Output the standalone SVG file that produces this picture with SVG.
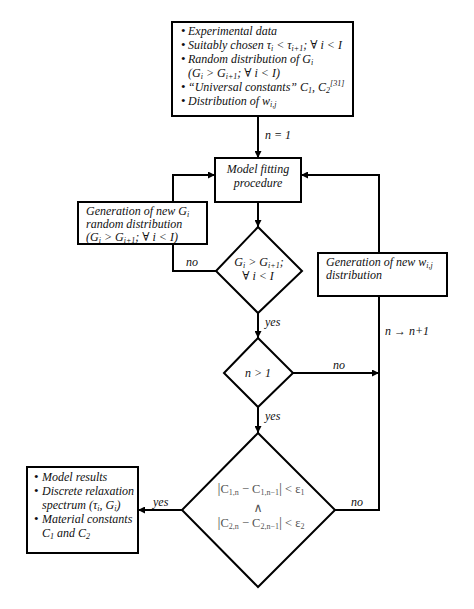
<svg xmlns="http://www.w3.org/2000/svg" width="474" height="609" viewBox="0 0 474 609">
<style>
  .box { fill: #fff; stroke: #000; stroke-width: 2; }
  .edge { fill: none; stroke: #000; stroke-width: 2; }
  .t { font-family: "Liberation Serif", "DejaVu Serif", serif; font-style: italic; font-size: 12px; fill: #111; }
  .b { font-family: "Liberation Serif", "DejaVu Serif", serif; font-size: 13px; fill: #111; }
  .m { font-family: "Liberation Serif", "DejaVu Serif", serif; font-size: 12.5px; fill: #555; }
  .s { font-size: 8px; }
</style>
<defs>
  <marker id="arr" viewBox="0 0 10 10" refX="10" refY="5" markerWidth="8" markerHeight="7" markerUnits="userSpaceOnUse" orient="auto">
    <path d="M0,0 L10,5 L0,10 z" fill="#000"/>
  </marker>
</defs>
<rect width="474" height="609" fill="#fff"/>

<g id="connectors">
  <line class="edge" x1="258" y1="116" x2="258" y2="158" marker-end="url(#arr)"/>
  <line class="edge" x1="258" y1="202" x2="258" y2="227" marker-end="url(#arr)"/>
  <path class="edge" d="M173,202 V175 H215" marker-end="url(#arr)"/>
  <path class="edge" d="M216,271 H173 V244"/>
  <line class="edge" x1="258" y1="313" x2="258" y2="338" marker-end="url(#arr)"/>
  <line class="edge" x1="258" y1="407" x2="258" y2="433" marker-end="url(#arr)"/>
  <line class="edge" x1="293" y1="373" x2="379" y2="373" marker-end="url(#arr)"/>
  <path class="edge" d="M335,510 H379 V296"/>
  <path class="edge" d="M379,253 V175 H301" marker-end="url(#arr)"/>
  <line class="edge" x1="182" y1="510" x2="138" y2="510" marker-end="url(#arr)"/>
  <text class="t" x="265" y="139">n = 1</text>
  <text class="t" x="186" y="266">no</text>
  <text class="t" x="265" y="326">yes</text>
  <text class="t" x="333" y="369">no</text>
  <text class="t" x="385" y="335">n → n+1</text>
  <text class="t" x="265" y="420">yes</text>
  <text class="t" x="351" y="506">no</text>
  <text class="t" x="153" y="506">yes</text>
</g>

<g id="start">
  <rect class="box" x="172" y="22" width="181" height="94"/>
  <text class="b" x="181" y="35">•</text>
  <text class="b" x="181" y="49">•</text>
  <text class="b" x="181" y="63">•</text>
  <text class="b" x="181" y="91">•</text>
  <text class="b" x="181" y="105">•</text>
  <text class="t" x="188" y="35">Experimental data</text>
  <text class="t" x="188" y="49">Suitably chosen τ<tspan class="s" dy="2">i</tspan><tspan dy="-2"> &lt; τ</tspan><tspan class="s" dy="2">i+1</tspan><tspan dy="-2">; ∀ i &lt; I</tspan></text>
  <text class="t" x="188" y="63">Random distribution of G<tspan class="s" dy="2">i</tspan></text>
  <text class="t" x="188" y="77">(G<tspan class="s" dy="2">i</tspan><tspan dy="-2"> &gt; G</tspan><tspan class="s" dy="2">i+1</tspan><tspan dy="-2">; ∀ i &lt; I)</tspan></text>
  <text class="t" x="188" y="91">“Universal constants” C<tspan class="s" dy="2">1</tspan><tspan dy="-2">,  C</tspan><tspan class="s" dy="2">2</tspan><tspan class="s" dy="-7">[31]</tspan></text>
  <text class="t" x="188" y="105">Distribution of w<tspan class="s" dy="2">i,j</tspan></text>
</g>

<g id="model">
  <rect class="box" x="215" y="158" width="86" height="44"/>
  <text class="t" x="258" y="173" text-anchor="middle">Model fitting</text>
  <text class="t" x="258" y="187" text-anchor="middle">procedure</text>
</g>

<g id="genG">
  <rect class="box" x="78" y="202" width="129" height="42"/>
  <text class="t" x="86" y="215">Generation of new G<tspan class="s" dy="2">i</tspan></text>
  <text class="t" x="86" y="228">random distribution</text>
  <text class="t" x="86" y="241">(G<tspan class="s" dy="2">i</tspan><tspan dy="-2"> &gt; G</tspan><tspan class="s" dy="2">i+1</tspan><tspan dy="-2">; ∀ i &lt; I)</tspan></text>
</g>

<g id="checkG">
  <polygon class="box" points="258,227 302,271 258,313 216,271"/>
  <text class="t" x="259" y="266" text-anchor="middle">G<tspan class="s" dy="2">i</tspan><tspan dy="-2"> &gt; G</tspan><tspan class="s" dy="2">i+1</tspan><tspan dy="-2">;</tspan></text>
  <text class="t" x="258" y="280" text-anchor="middle">∀ i &lt; I</text>
</g>

<g id="genW">
  <rect class="box" x="318" y="253" width="129" height="43"/>
  <text class="t" x="326" y="266">Generation of new w<tspan class="s" dy="2">i,j</tspan></text>
  <text class="t" x="326" y="279">distribution</text>
</g>

<g id="checkN">
  <polygon class="box" points="258,338 293,373 258,407 224,373"/>
  <text class="t" x="258" y="377" text-anchor="middle">n &gt; 1</text>
</g>

<g id="converge">
  <polygon class="box" points="258,433 335,510 258,587 182,510"/>
  <text class="m" x="261" y="493" text-anchor="middle"><tspan font-size="15">|</tspan>C<tspan class="s" dy="2">1,n</tspan><tspan dy="-2"> − C</tspan><tspan class="s" dy="2">1,n−1</tspan><tspan dy="-2"><tspan font-size="15">|</tspan> &lt; ε</tspan><tspan class="s" dy="2">1</tspan></text>
  <text class="m" x="258" y="512" text-anchor="middle" font-size="10">∧</text>
  <text class="m" x="261" y="527" text-anchor="middle"><tspan font-size="15">|</tspan>C<tspan class="s" dy="2">2,n</tspan><tspan dy="-2"> − C</tspan><tspan class="s" dy="2">2,n−1</tspan><tspan dy="-2"><tspan font-size="15">|</tspan> &lt; ε</tspan><tspan class="s" dy="2">2</tspan></text>
</g>

<g id="results">
  <rect class="box" x="27" y="467" width="111" height="86"/>
  <text class="b" x="34" y="481">•</text>
  <text class="b" x="34" y="495">•</text>
  <text class="b" x="34" y="523">•</text>
  <text class="t" x="42" y="481">Model results</text>
  <text class="t" x="42" y="495">Discrete relaxation</text>
  <text class="t" x="42" y="509">spectrum (τ<tspan class="s" dy="2">i</tspan><tspan dy="-2">, G</tspan><tspan class="s" dy="2">i</tspan><tspan dy="-2">)</tspan></text>
  <text class="t" x="42" y="523">Material constants</text>
  <text class="t" x="42" y="537">C<tspan class="s" dy="2">1</tspan><tspan dy="-2"> and C</tspan><tspan class="s" dy="2">2</tspan></text>
</g>
</svg>
